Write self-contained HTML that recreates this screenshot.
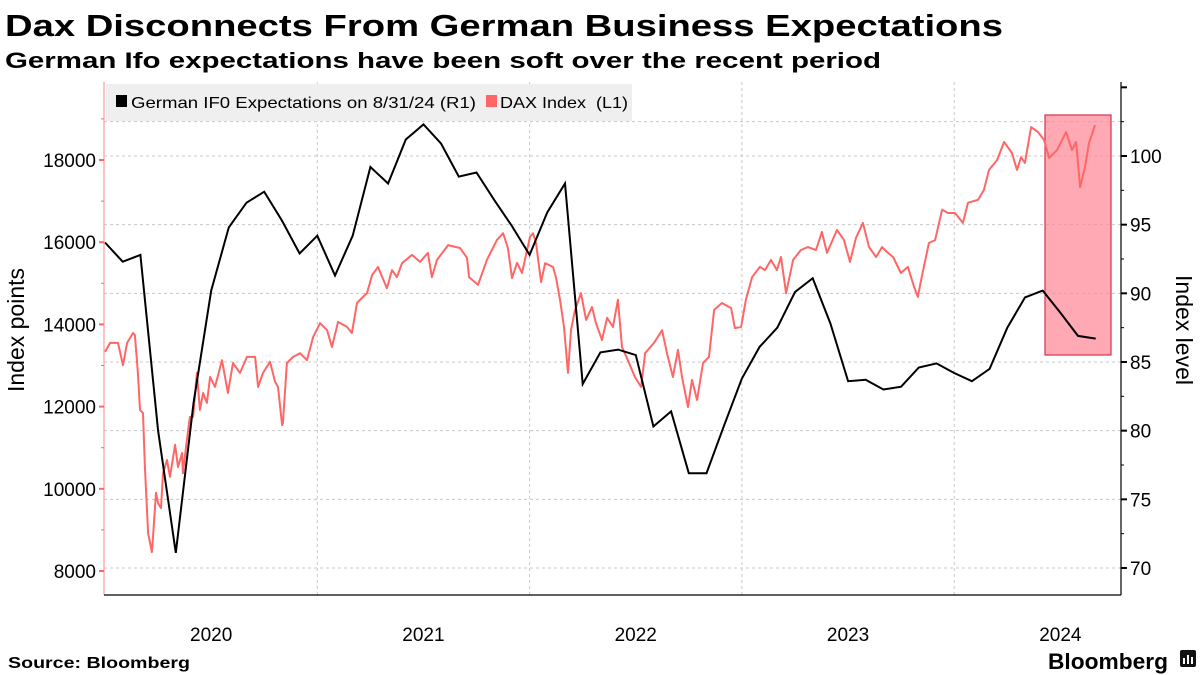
<!DOCTYPE html>
<html><head><meta charset="utf-8">
<style>
html,body{margin:0;padding:0;background:#fff;}
svg{display:block;font-family:"Liberation Sans",sans-serif;}
</style></head>
<body>
<svg id="chart" width="1200" height="675" viewBox="0 0 1200 675" xmlns="http://www.w3.org/2000/svg">
<text x="5" y="36" font-size="31" font-weight="bold" textLength="998" lengthAdjust="spacingAndGlyphs">Dax Disconnects From German Business Expectations</text>
<text x="5" y="68" font-size="22" font-weight="bold" textLength="876" lengthAdjust="spacingAndGlyphs">German Ifo expectations have been soft over the recent period</text>
<g id="grid"></g>
<g id="plot"></g>
<g id="axes"></g>
<g>
<rect x="106" y="84" width="526" height="37" fill="#efefef"/>
<rect x="116" y="95" width="11" height="12" fill="#000"/>
<text x="131" y="108" font-size="16" textLength="345" lengthAdjust="spacingAndGlyphs">German IF0 Expectations on 8/31/24 (R1)</text>
<rect x="486" y="95" width="11" height="12" fill="#ff6666"/>
<text x="500" y="108" font-size="16" xml:space="preserve" textLength="128" lengthAdjust="spacingAndGlyphs">DAX Index  (L1)</text>
</g>
<text transform="translate(24,330) rotate(-90)" text-anchor="middle" font-size="23">Index points</text>
<text transform="translate(1176,330) rotate(90)" text-anchor="middle" font-size="23">Index level</text>
<text x="8" y="668" font-size="16" font-weight="bold" textLength="182" lengthAdjust="spacingAndGlyphs">Source: Bloomberg</text>
<text x="1048" y="669" font-size="22" font-weight="bold" textLength="120" lengthAdjust="spacingAndGlyphs">Bloomberg</text>
<g>
<rect x="1180" y="650" width="16" height="17" rx="2" fill="#111"/>
<rect x="1183" y="658" width="2" height="6" fill="#fff"/><rect x="1187" y="655" width="2" height="9" fill="#fff"/><rect x="1191" y="657" width="2" height="7" fill="#fff"/>
</g>
</svg>
<script>
const ifoValues=[93.7,92.3,92.8,80,71.1,82,90.2,94.8,96.6,97.4,95.3,92.9,94.2,91.3,94.2,99.2,98,101.2,102.3,100.9,98.5,98.8,96.8,94.9,92.8,95.9,98,83.4,85.7,85.9,85.5,80.3,81.4,76.9,76.9,80.4,83.8,86.1,87.5,90.1,91.1,87.8,83.6,83.7,83.0,83.2,84.6,84.9,84.2,83.6,84.5,87.5,89.7,90.2,88.6,86.9,86.7];
const daxDates=[0,.024,.061,.085,.104,.132,.141,.155,.165,.179,.188,.203,.221,.226,.240,.250,.264,.273,.292,.306,.330,.344,.363,.367,.386,.400,.415,.433,.447,.462,.480,.495,.518,.551,.579,.603,.636,.669,.707,.721,.744,.777,.801,.815,.834,.838,.857,.886,.919,.951,.980,1.013,1.046,1.069,1.098,1.140,1.163,1.187,1.215,1.234,1.258,1.286,1.328,1.352,1.375,1.399,1.446,1.484,1.521,1.540,1.564,1.616,1.672,1.705,1.715,1.757,1.799,1.846,1.875,1.898,1.917,1.941,1.964,2.002,2.016,2.030,2.054,2.073,2.110,2.124,2.143,2.162,2.181,2.195,2.214,2.242,2.266,2.294,2.313,2.341,2.365,2.393,2.416,2.435,2.463,2.496,2.525,2.544,2.586,2.624,2.647,2.675,2.699,2.718,2.746,2.765,2.789,2.817,2.845,2.869,2.906,2.949,2.967,2.996,3.019,3.048,3.085,3.109,3.137,3.165,3.184,3.208,3.241,3.278,3.311,3.349,3.377,3.401,3.448,3.481,3.509,3.537,3.570,3.599,3.632,3.660,3.688,3.712,3.749,3.782,3.811,3.829,3.844,3.881,3.910,3.943,3.971,4.004,4.041,4.065,4.112,4.140,4.164,4.202,4.235,4.272,4.296,4.315,4.333,4.362,4.395,4.423,4.447,4.484,4.527,4.555,4.574,4.593,4.616,4.635,4.663];
const daxValues=[13330,13550,13550,13010,13550,13790,13740,12820,11920,11840,10530,8920,8460,8830,9900,9650,9530,10380,10700,10290,11070,10530,10870,10380,11190,11750,11750,12820,11920,12330,12090,12720,12480,13130,12330,13060,12820,13210,13210,12480,12820,13090,12600,12480,11550,11600,13060,13210,13300,13130,13690,14030,13860,13450,14060,13940,13790,14520,14670,14760,15200,15400,14880,15320,15150,15490,15690,15520,15740,15150,15570,15930,15860,15620,15150,14960,15570,16050,16220,15860,15130,15500,15250,16130,16220,15980,15030,15490,15400,15150,14600,13940,12820,13860,14350,14760,14110,14420,14030,13620,14160,13940,14600,13450,13130,12720,12480,13300,13550,13860,13300,12720,13380,12720,11990,12650,12160,13060,13210,14350,14520,14400,13910,13940,14600,15150,15400,15320,15570,15320,15640,14760,15570,15810,15880,15810,16250,15740,16300,16050,15520,16100,16470,15880,15640,15880,15740,15640,15250,15400,14910,14670,15080,15980,16050,16790,16710,16710,16470,16960,17030,17270,17760,18000,18440,18170,17760,18070,17930,18800,18680,18490,18050,18240,18680,18240,18440,17340,17830,18410,18850];
const leftTicks=[8000,10000,12000,14000,16000,18000];
const rightTicks=[70,75,80,85,90,95,100];
const yearLabels=["2020","2021","2022","2023","2024"];

const NS="http://www.w3.org/2000/svg";
const X0=105,PXY=212.3,PL=104,PR=1121,PT=82,PB=595;
const xS=t=>X0+t*PXY;
const yL=v=>160+(18000-v)*0.0411;
const yR=v=>156+(100-v)*13.733;
function mk(tag,attrs,parent){const e=document.createElementNS(NS,tag);for(const k in attrs)e.setAttribute(k,attrs[k]);parent.appendChild(e);return e;}
const grid=document.getElementById('grid'),plot=document.getElementById('plot'),axes=document.getElementById('axes');

[...rightTicks,102.5].forEach(v=>{
  const l=mk('line',{x1:PL,x2:PR,y1:yR(v),y2:yR(v),stroke:'#c8c8c8','stroke-dasharray':'3,3','stroke-width':1},grid);
  
  
});
[1,2,3,4].forEach(t=>{
  const l=mk('line',{x1:xS(t),x2:xS(t),y1:PT,y2:PB,stroke:'#c8c8c8','stroke-dasharray':'3,3','stroke-width':1},grid);
  
  
});

const hl=mk('rect',{x:1045,y:115,width:66,height:240,fill:'#ff8496','fill-opacity':0.7,stroke:'#d8314b','stroke-width':1.2},plot);



const dp=daxValues.map((v,i)=>xS(daxDates[i]).toFixed(1)+','+yL(v).toFixed(1)).join(' ');
const dl=mk('polyline',{points:dp,fill:'none',stroke:'#ff6666','stroke-width':2,'stroke-linejoin':'round'},plot);



const ip=ifoValues.map((v,i)=>xS(i/12).toFixed(1)+','+yR(v).toFixed(1)).join(' ');
const il=mk('polyline',{points:ip,fill:'none',stroke:'#000','stroke-width':2,'stroke-linejoin':'miter'},plot);



const la=mk('line',{x1:PL,x2:PL,y1:PT,y2:PB,stroke:'#f4a0a0','stroke-width':1.2},axes);


for(let v=8000;v<=19000;v+=1000){
  const major=v%2000===0;
  mk('line',{x1:PL-(major?5:3),x2:PL,y1:yL(v),y2:yL(v),stroke:'#ff6666','stroke-width':major?2:1},axes);
}
leftTicks.forEach(v=>{
  const t=mk('text',{x:96,y:yL(v)+7,'text-anchor':'end','font-size':19},axes);
  t.textContent=v;
  
  
});
const ra=mk('line',{x1:PR,x2:PR,y1:PT,y2:PB,stroke:'#000','stroke-width':1.2},axes);


for(let v=67.5;v<=105;v+=2.5){
  if(yR(v)<PT||yR(v)>PB)continue;
  const major=v%5===0;
  mk('line',{x1:PR,x2:PR+(major?6:3),y1:yR(v),y2:yR(v),stroke:'#000','stroke-width':major?2:1},axes);
}
rightTicks.forEach(v=>{
  const t=mk('text',{x:1130,y:yR(v)+7,'font-size':19},axes);
  t.textContent=v;
  
  
});
const xa=mk('line',{x1:PL,x2:PR,y1:PB,y2:PB,stroke:'#000','stroke-width':1.2},axes);


yearLabels.forEach((s,i)=>{
  const t=mk('text',{x:xS(i+0.5),y:641,'text-anchor':'middle','font-size':19},axes);
  t.textContent=s;
  
  
});
</script>
</body></html>
